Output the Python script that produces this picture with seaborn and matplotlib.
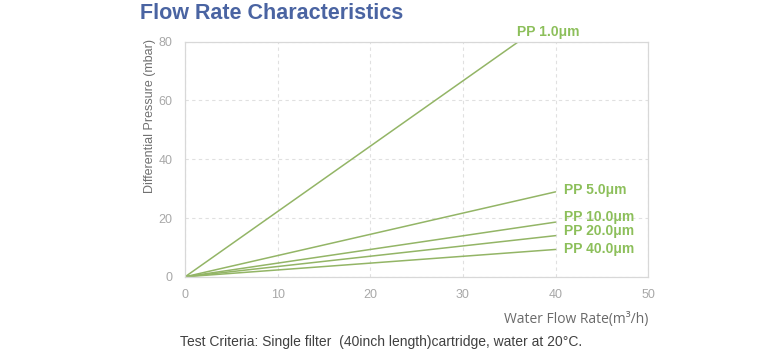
import matplotlib
matplotlib.use("Agg")
import matplotlib.pyplot as plt
import numpy as np
import pandas as pd
import seaborn as sns

# data
grades = ["PP 1.0μm", "PP 5.0μm", "PP 10.0μm", "PP 20.0μm", "PP 40.0μm"]
flow_end = [36, 40, 40, 40, 40]          # m3/h at line end
dp_end = [80, 28.9, 18.6, 14.0, 9.3]      # mbar at line end

rows = []
for g, xe, ye in zip(grades, flow_end, dp_end):
    rows.append({"grade": g, "flow": 0, "dp": 0})
    rows.append({"grade": g, "flow": xe, "dp": ye})
df = pd.DataFrame(rows)

sns.set_style("white")
plt.rcParams["font.family"] = ["Liberation Sans", "DejaVu Sans"]

line_col = "#93b566"
label_col = "#8cbf5a"
grid_col = "#e0e0e0"

fig = plt.figure(figsize=(7.68, 3.59), dpi=100)
ax = fig.add_axes([0.241, 0.229, 0.603, 0.655])

sns.lineplot(data=df, x="flow", y="dp", hue="grade",
             palette=[line_col] * len(grades), linewidth=1.1,
             legend=False, ax=ax)

ax.set_xlim(0, 50)
ax.set_ylim(0, 80)
ax.set_xticks([0, 10, 20, 30, 40, 50])
ax.set_yticks([0, 20, 40, 60, 80])
ax.grid(True, color=grid_col, linestyle=(0, (3, 3)), linewidth=0.8)
for s in ax.spines.values():
    s.set_color("#d8d8d8")
    s.set_linewidth(0.9)
ax.tick_params(length=0, labelsize=9, labelcolor="#a8a8a8", pad=9)

ax.set_xlabel("")
ax.set_ylabel("Differential Pressure (mbar)", fontsize=9, color="#707070")
ax.yaxis.set_label_coords(-0.062, 0.685)
ax.text(1.0, -0.18, "Water Flow Rate(m³/h)", transform=ax.transAxes,
        ha="right", va="center", fontsize=10, color="#6a6a6a",
        family=["Open Sans", "DejaVu Sans"])

# curve labels (positions tuned to avoid overlaps)
label_x = [35.8, 40.9, 40.9, 40.9, 40.9]
label_y = [83.3, 29.5, 20.3, 15.5, 9.4]
for g, lx, ly in zip(grades, label_x, label_y):
    ax.text(lx, ly, g, fontsize=10, fontweight="bold", color=label_col,
            ha="left", va="center", clip_on=False)

fig.text(0.182, 0.962, "Flow Rate Characteristics", fontsize=15.5,
         fontweight="bold", color="#4a64a2", ha="left", va="center")
fig.text(0.234, 0.047, "Test Criteria: Single filter  (40inch length)cartridge, water at 20°C.",
         fontsize=10, color="#404040", ha="left", va="center")

fig.savefig("out.png", dpi=100)
